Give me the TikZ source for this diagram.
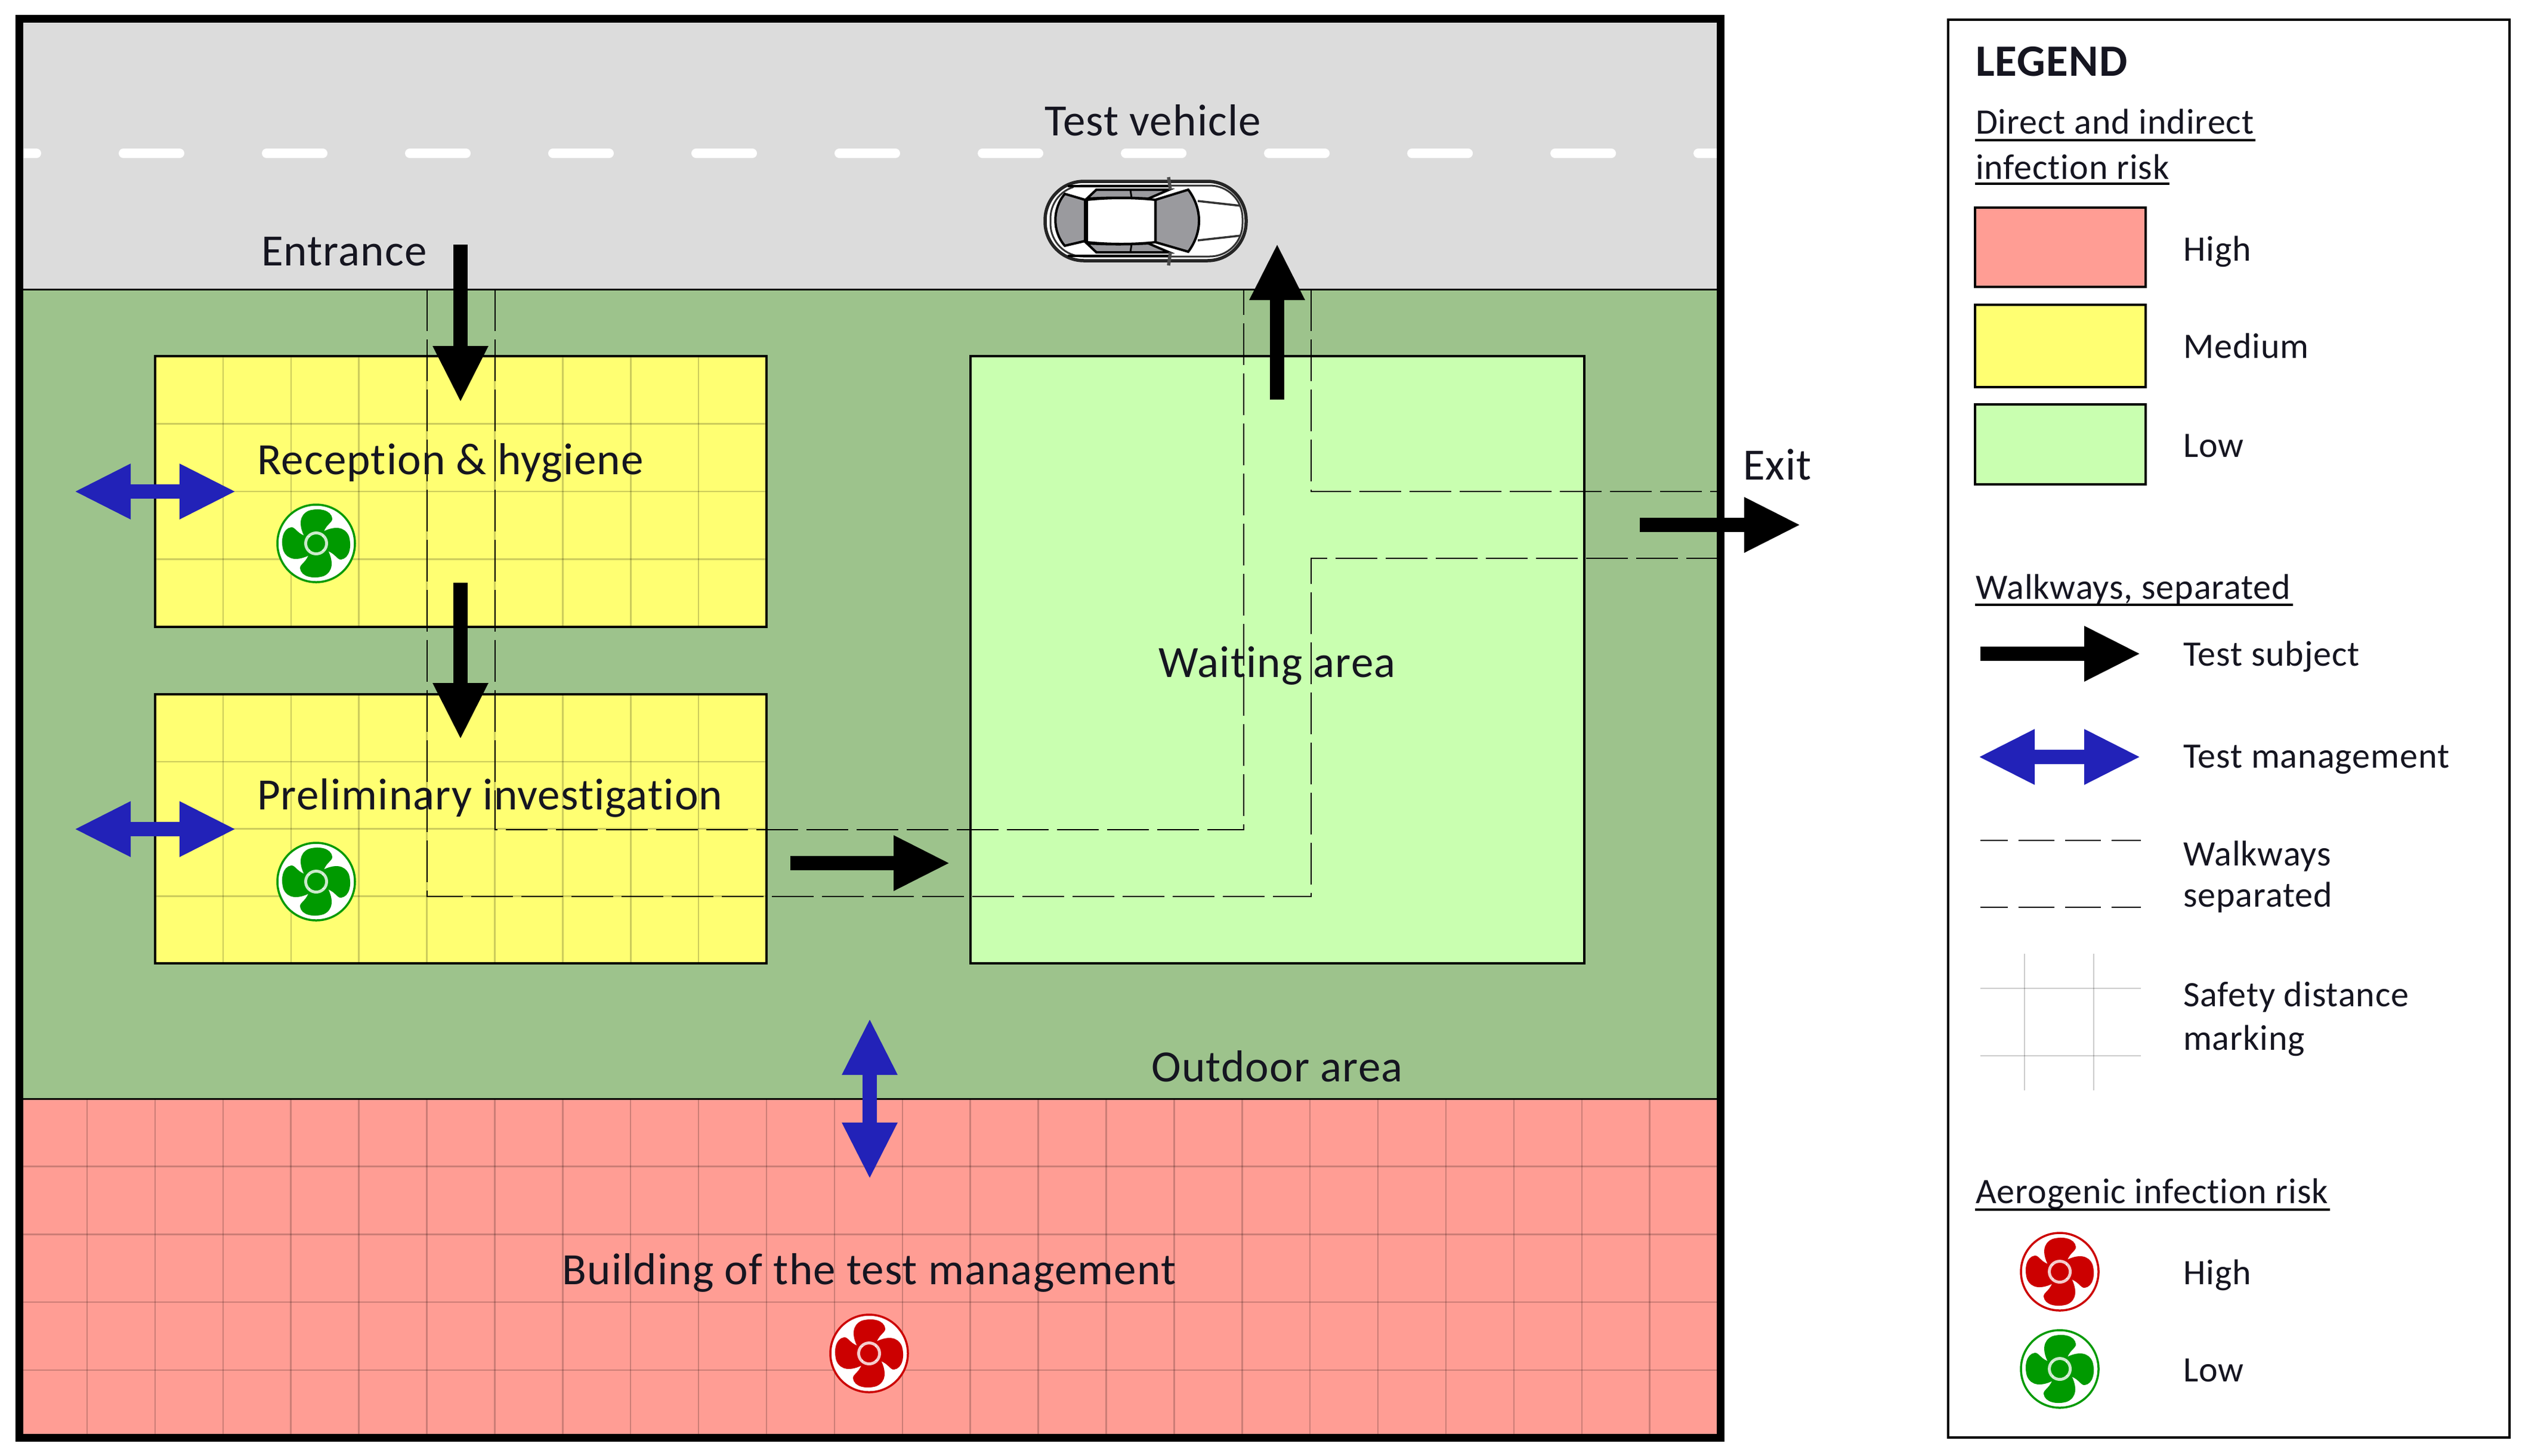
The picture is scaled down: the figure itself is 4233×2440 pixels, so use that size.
\documentclass[tikz,border=0pt]{standalone}
\usepackage{fontspec}
\setmainfont{Carlito}[LetterSpace=1.6,Ligatures={NoCommon,NoRequired,NoContextual}]
\usetikzlibrary{arrows.meta}
\definecolor{road}{HTML}{DCDCDC}
\definecolor{outdoor}{HTML}{9DC38C}
\definecolor{medrisk}{HTML}{FFFF72}
\definecolor{lowrisk}{HTML}{C9FFB0}
\definecolor{highrisk}{HTML}{FF9D94}
\definecolor{fangreen}{HTML}{009A00}
\definecolor{fanred}{HTML}{CC0000}
\definecolor{mgmtblue}{HTML}{2222B8}
\definecolor{txt}{HTML}{151520}
\definecolor{cargray}{HTML}{9A9A9E}
\tikzset{
  x=0.2pt,y=-0.2pt,
  zone/.style={draw=black,line width=0.7pt},
  mainlbl/.style={anchor=base west,inner sep=0pt,text=txt,font=\fontsize{15}{18}\selectfont},
  midlbl/.style={anchor=base,inner sep=0pt,text=txt,font=\fontsize{15}{18}\selectfont},
  leglbl/.style={anchor=base west,inner sep=0pt,text=txt,font=\fontsize{12}{14}\selectfont},
  legline/.style={draw=black,line width=0.8pt},
  underl/.style={draw=black,line width=0.9pt},
  gridline/.style={draw=black,draw opacity=.2,line width=0.5pt},
  walk/.style={draw=black,line width=0.58pt,dash pattern=on 14pt off 2.8pt},
  legwalk/.style={draw=black,line width=0.58pt,dash pattern=on 12pt off 3.6pt,dash phase=2.8pt},
  subj/.style={draw=black,fill=black,line width=4.8pt,-{Triangle[length=19pt,width=17.2pt]}},
  mgmt/.style={draw=mgmtblue,fill=mgmtblue,line width=4.8pt,{Triangle[length=19pt,width=17.2pt]}-{Triangle[length=19pt,width=17.2pt]}},
  fan/.pic={
    \fill[white] (0,0) circle (66);
    \draw[#1,line width=0.7pt] (0,0) circle (65);
    \foreach \a in {0,90,180,270}
      \fill[#1,rotate=\a] (-20,-12) .. controls (-29,-30) and (-29,-48) .. (-12,-55) .. controls (5,-60) and (25,-56) .. (27,-42) .. controls (28,-34) and (14,-32) .. (11,-12) -- cycle;
    \fill[white,opacity=.8] (0,0) circle (20);
    \fill[#1] (0,0) circle (15);
  }
}
\begin{document}
\begin{tikzpicture}
\useasboundingbox (0,0) rectangle (4233,2440);
% areas
\fill[road] (32,31) rectangle (2884,485);
\fill[outdoor] (32,485) rectangle (2884,1842);
\fill[highrisk] (32,1842) rectangle (2884,2404);
% road marking
\draw[white,line width=3.2pt,line cap=round,dash pattern=on 18.8pt off 29.2pt,dash phase=14.2pt] (38,257) -- (2877,257);
% zones
\draw[zone,fill=medrisk] (260,597) rectangle (1285,1051);
\draw[zone,fill=medrisk] (260,1164) rectangle (1285,1615);
\draw[zone,fill=lowrisk] (1627,597) rectangle (2656,1615);
% safety grids
\foreach \k in {1,...,8} {
  \draw[gridline] ({260+113.9*\k},597) -- ({260+113.9*\k},1051);
  \draw[gridline] ({260+113.9*\k},1164) -- ({260+113.9*\k},1615);
}
\foreach \k in {1,2,3} {
  \draw[gridline] (260,{597+113.5*\k}) -- (1285,{597+113.5*\k});
  \draw[gridline] (260,{1164+112.8*\k}) -- (1285,{1164+112.8*\k});
}
\foreach \k in {0,...,23}
  \draw[gridline] ({146+113.9*\k},1842) -- ({146+113.9*\k},2404);
\foreach \k in {1,2,3,4}
  \draw[gridline] (32,{1842+113.7*\k}) -- (2884,{1842+113.7*\k});
\draw[black,line width=0.6pt] (32,485) -- (2884,485);
\draw[black,line width=0.6pt] (32,1842) -- (2884,1842);
% walkways
\draw[walk] (716,485) -- (716,1503) -- (2198,1503) -- (2198,936) -- (2884,936);
\draw[walk] (830,485) -- (830,1391) -- (2085,1391) -- (2085,485);
\draw[walk] (2198,485) -- (2198,824) -- (2884,824);
% frame
\draw[black,line width=2.6pt,line join=miter] (32,31) rectangle (2884,2410);
% labels
\node[mainlbl] (lblentrance) at (437,445) {Entrance};
\node[mainlbl] (lblvehicle) at (1750,227) {Test vehicle};
\node[mainlbl] (lblreception) at (430,795) {Reception \& hygiene};
\node[mainlbl] (lblprelim) at (430,1357) {Preliminary investigation};
\node[midlbl] (lblwaiting) at (2141,1135) {Waiting area};
\node[midlbl] (lbloutdoor) at (2141,1813) {Outdoor area};
\node[midlbl] (lblbuilding) at (1457,2153) {Building of the test management};
\node[mainlbl] (lblexit) at (2921,804) {Exit};
% car
\draw[black!85,line width=1.1pt,fill=white,rounded corners=13pt] (1752,304) rectangle (2089,437);
\draw[black!80,line width=0.6pt,rounded corners=11pt] (1761,311) rectangle (2083,430);
\fill[white] (1800,312) rectangle (1840,316);
\draw[black,line width=0.8pt,fill=cargray] (1785,325) .. controls (1764,350) and (1764,388) .. (1785,412) -- (1819,404) -- (1819,335) -- cycle;
\draw[black,line width=0.8pt,fill=cargray] (1937,335) -- (1992,318) .. controls (2016,350) and (2016,390) .. (1992,422) -- (1937,406) -- cycle;
\draw[black,line width=0.8pt,fill=cargray] (1838,318) -- (1960,318) -- (1925,333) .. controls (1890,331) and (1860,331) .. (1822,333) -- cycle;
\draw[black,line width=0.8pt,fill=cargray] (1838,423) -- (1960,423) -- (1925,408) .. controls (1890,410) and (1860,410) .. (1822,408) -- cycle;
\draw[black,line width=0.8pt,fill=white] (1822,335) .. controls (1860,331) and (1900,331) .. (1937,335) -- (1937,406) .. controls (1900,410) and (1860,410) .. (1822,406) -- cycle;
\draw[black,line width=0.6pt] (1895,318) -- (1897,332) (1895,423) -- (1897,409);
\draw[black!80,line width=0.7pt] (2008,337) -- (2080,345) (2008,403) -- (2080,395);
\draw[black,line width=0.9pt] (1790,312) -- (1960,312) (1790,429) -- (1960,429);
\draw[black!70,line width=1.1pt] (1959,297) -- (1962,318) (1959,445) -- (1962,423);
% fans
\pic at (530,911) {fan=fangreen};
\pic at (530,1478) {fan=fangreen};
\pic at (1457,2269) {fan=fanred};
% arrows
\coordinate (enA) at (772,410); \coordinate (enB) at (772,675);
\coordinate (prA) at (772,977); \coordinate (prB) at (772,1240);
\coordinate (waA) at (1325,1447); \coordinate (waB) at (1593,1447);
\coordinate (veA) at (2141,670); \coordinate (veB) at (2141,408);
\coordinate (exA) at (2749,880); \coordinate (exB) at (3019,880);
\draw[subj] (enA) -- (enB);
\draw[subj] (prA) -- (prB);
\draw[subj] (waA) -- (waB);
\draw[subj] (veA) -- (veB);
\draw[subj] (exA) -- (exB);
\coordinate (m1A) at (124,824); \coordinate (m1B) at (396,824);
\coordinate (m2A) at (124,1390); \coordinate (m2B) at (396,1390);
\coordinate (m3A) at (1458,1707); \coordinate (m3B) at (1458,1977);
\draw[mgmt] (m1A) -- (m1B);
\draw[mgmt] (m2A) -- (m2B);
\draw[mgmt] (m3A) -- (m3B);
% legend
\draw[legline,fill=white] (3266,33) rectangle (4207,2410);
\node[leglbl,font=\fontsize{15}{18}\selectfont\bfseries] (lgtitle) at (3311,127) {LEGEND};
\node[leglbl] (lgdirect) at (3311,224) {Direct and indirect};
\draw[underl] (3311,235) -- (3781,235);
\node[leglbl] (lginfection) at (3311,300) {infection risk};
\draw[underl] (3311,308) -- (3637,308);
\draw[legline,fill=highrisk] (3311,348) rectangle (3597,481);
\draw[legline,fill=medrisk] (3311,511) rectangle (3597,649);
\draw[legline,fill=lowrisk] (3311,678) rectangle (3597,812);
\node[leglbl] (lghigh) at (3659,437) {High};
\node[leglbl] (lgmedium) at (3659,600) {Medium};
\node[leglbl] (lglow) at (3659,766) {Low};
\node[leglbl] (lgwalk) at (3311,1004) {Walkways, separated};
\draw[underl] (3311,1014) -- (3844,1014);
\coordinate (lsA) at (3320,1096); \coordinate (lsB) at (3589,1096);
\coordinate (lmA) at (3316,1269); \coordinate (lmB) at (3589,1269);
\draw[subj] (lsA) -- (lsB);
\draw[mgmt] (lmA) -- (lmB);
\node[leglbl] (lgsubject) at (3659,1116) {Test subject};
\node[leglbl] (lgmanage) at (3659,1287) {Test management};
\draw[legwalk] (3320,1409) -- (3589,1409);
\draw[legwalk] (3320,1521) -- (3589,1521);
\node[leglbl] (lgwalkways) at (3659,1451) {Walkways};
\node[leglbl] (lgseparated) at (3659,1520) {separated};
\draw[gridline] (3394,1599) -- (3394,1828);
\draw[gridline] (3510,1599) -- (3510,1828);
\draw[gridline] (3320,1657) -- (3589,1657);
\draw[gridline] (3320,1770) -- (3589,1770);
\node[leglbl] (lgsafety) at (3659,1687) {Safety distance};
\node[leglbl] (lgmarking) at (3659,1760) {marking};
\node[leglbl] (lgaero) at (3311,2017) {Aerogenic infection risk};
\draw[underl] (3311,2028) -- (3906,2028);
\pic at (3453,2132) {fan=fanred};
\pic at (3453,2295) {fan=fangreen};
\node[leglbl] (lghighb) at (3659,2153) {High};
\node[leglbl] (lglowb) at (3659,2316) {Low};
\end{tikzpicture}
\end{document}
